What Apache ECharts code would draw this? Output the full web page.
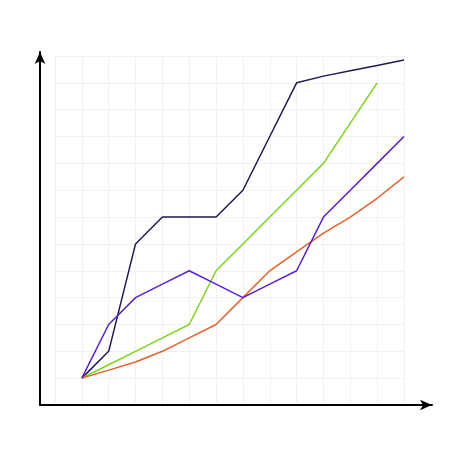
<!DOCTYPE html><html><head><meta charset="utf-8"><script src="https://cdn.jsdelivr.net/npm/echarts@6/dist/echarts.min.js"></script></head><body style="margin:0;background:#fff"><div id="c" style="width:474px;height:474px"></div><script>
const xs=[1,2,3,4,5,6,7,8,9,10,11,12,13];
const navy=[1,2,6,7,7,7,8,10,12,12.25,12.45,12.65,12.85];
const green=[1,1.5,2,2.5,3,5,6,7,8,9,10.5,12];
const orange=[1,1.3,1.6,2,2.5,3,4,5,5.7,6.4,7,7.7,8.5];
const purple=[1,3,4,4.5,5,4.5,4,4.5,5,7,8,9,10];
const pair=a=>a.map((v,i)=>[xs[i],v]);
const c=echarts.init(document.getElementById('c'));
const mk=(d,col)=>({type:'line',data:pair(d),xAxisIndex:1,yAxisIndex:1,symbol:'none',lineStyle:{color:col,width:1.5},itemStyle:{color:col},animation:false});
c.setOption({animation:false,
grid:[{left:40,right:42,top:52,bottom:69},{left:55,right:70,top:56,bottom:69}],
xAxis:[{type:'value',gridIndex:0,min:0,max:1,axisLine:{lineStyle:{color:'#000',width:2},symbol:['none','arrow'],symbolSize:[8,12]},axisTick:{show:false},axisLabel:{show:false},splitLine:{show:false}},
{type:'value',gridIndex:1,min:0,max:13,interval:1,axisLine:{show:false},axisTick:{show:false},axisLabel:{show:false},splitLine:{lineStyle:{color:'#f2f2f2'}}}],
yAxis:[{type:'value',gridIndex:0,min:0,max:1,axisLine:{show:true,lineStyle:{color:'#000',width:2},symbol:['none','arrow'],symbolSize:[8,12]},axisTick:{show:false},axisLabel:{show:false},splitLine:{show:false}},
{type:'value',gridIndex:1,min:0,max:13,interval:1,axisLine:{show:false},axisTick:{show:false},axisLabel:{show:false},splitLine:{lineStyle:{color:'#f2f2f2'}}}],
series:[mk(navy,'#1c1c50'),mk(green,'#7ed321'),mk(orange,'#e5622a'),mk(purple,'#5a1fd1')]});
</script></body></html>
